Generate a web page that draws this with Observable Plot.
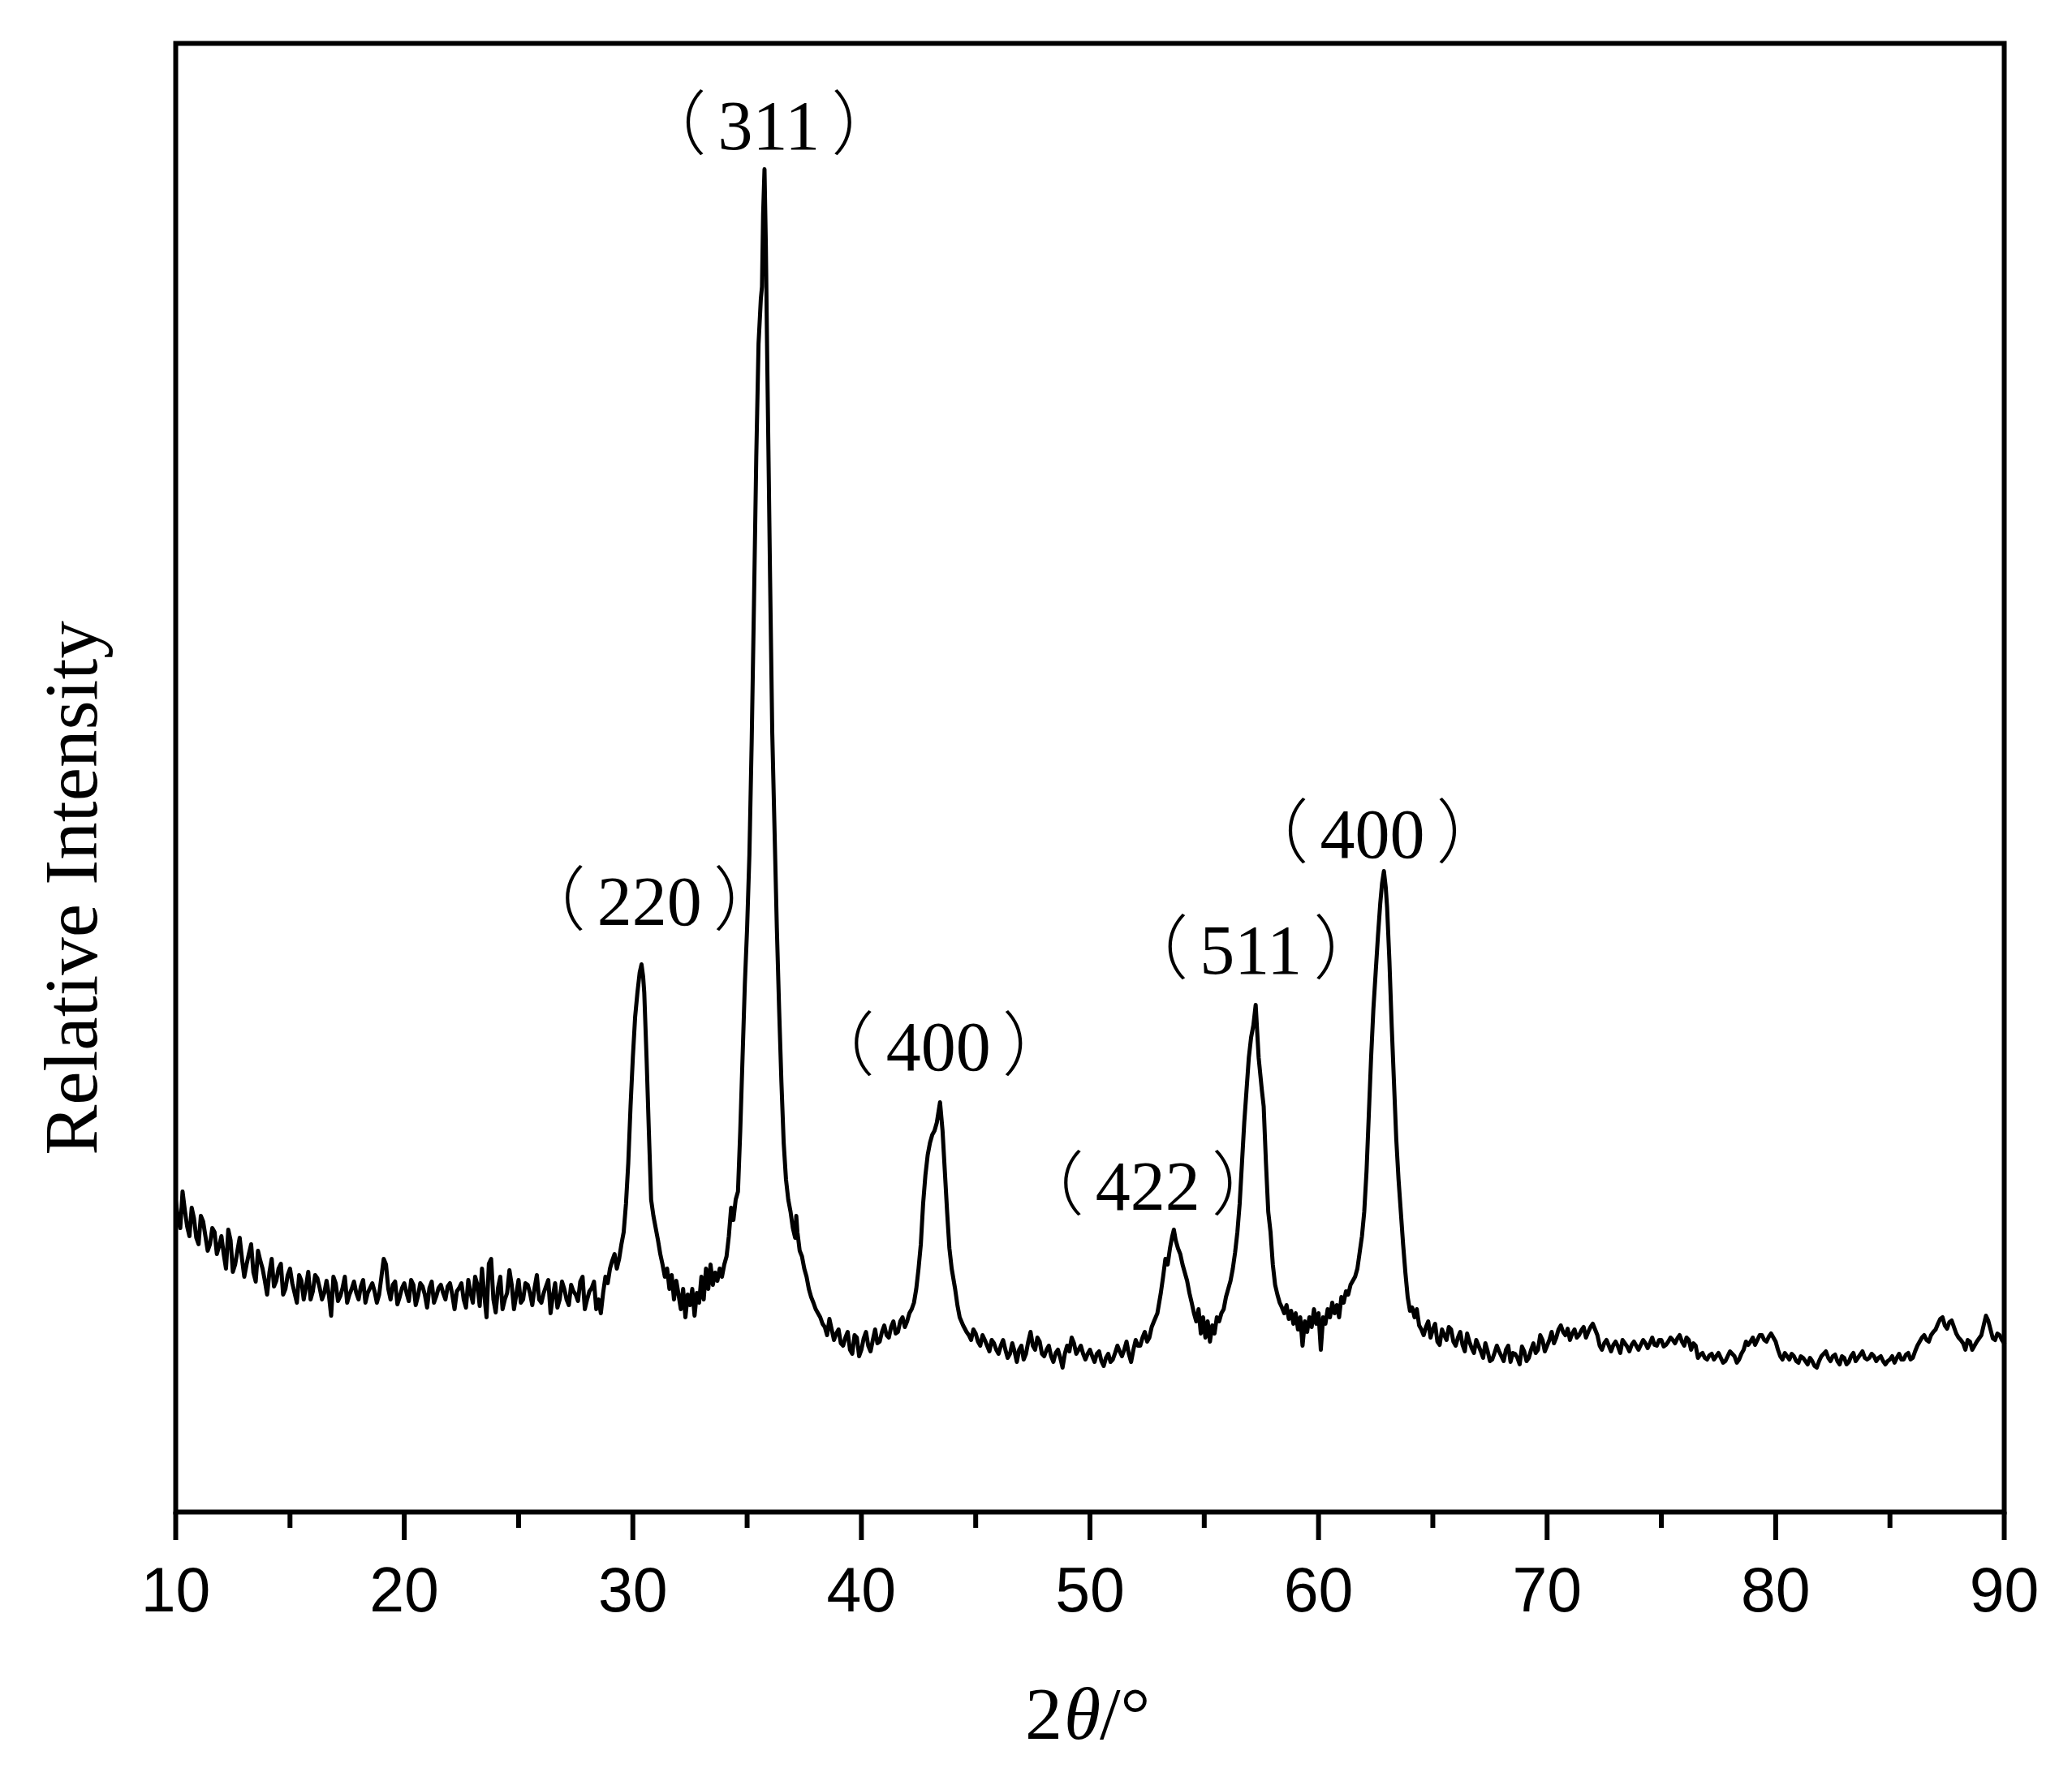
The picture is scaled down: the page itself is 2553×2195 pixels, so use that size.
<!DOCTYPE html>
<html>
<head>
<meta charset="utf-8">
<script src="https://cdn.jsdelivr.net/npm/d3@7"></script>
<script src="https://cdn.jsdelivr.net/npm/@observablehq/plot@0.6"></script>
<style>
  html, body { margin: 0; padding: 0; background: #fff; }
  #chart svg { display: block; }
</style>
</head>
<body>
<div id="chart"></div>
<script>
// XRD pattern: [2θ (°), relative intensity (a.u.)]
const pattern = [
  [10.0,385],[10.1,360],[10.2,350],[10.3,395],[10.4,372],[10.5,352],[10.6,340],[10.7,375],[10.8,362],[10.9,338],
  [11.0,330],[11.1,365],[11.2,358],[11.3,340],[11.4,322],[11.5,330],[11.6,350],[11.7,345],[11.8,318],[11.9,328],
  [12.0,340],[12.1,318],[12.2,300],[12.3,348],[12.4,335],[12.5,296],[12.6,305],[12.7,322],[12.8,338],[12.9,312],
  [13.0,290],[13.1,305],[13.2,318],[13.3,330],[13.4,295],[13.5,284],[13.6,322],[13.7,310],[13.8,300],[13.9,285],
  [14.0,268],[14.1,295],[14.2,312],[14.3,278],[14.4,285],[14.5,300],[14.6,306],[14.7,268],[14.8,275],[14.9,292],
  [15.0,300],[15.1,282],[15.2,270],[15.3,258],[15.4,292],[15.5,285],[15.6,262],[15.7,278],[15.8,296],[15.9,262],
  [16.0,272],[16.1,292],[16.2,288],[16.3,276],[16.4,262],[16.5,270],[16.6,285],[16.7,268],[16.8,242],[16.9,290],
  [17.0,282],[17.1,260],[17.2,266],[17.3,276],[17.4,290],[17.5,258],[17.6,268],[17.7,275],[17.8,284],[17.9,270],
  [18.0,262],[18.1,278],[18.2,286],[18.3,258],[18.4,270],[18.5,276],[18.6,282],[18.7,272],[18.8,258],[18.9,268],
  [19.0,290],[19.1,312],[19.2,305],[19.3,275],[19.4,262],[19.5,280],[19.6,284],[19.7,256],[19.8,265],[19.9,276],
  [20.0,282],[20.1,270],[20.2,260],[20.3,286],[20.4,280],[20.5,255],[20.6,266],[20.7,282],[20.8,278],[20.9,268],
  [21.0,252],[21.1,276],[21.2,284],[21.3,258],[21.4,266],[21.5,276],[21.6,280],[21.7,270],[21.8,262],[21.9,278],
  [22.0,282],[22.1,268],[22.2,250],[22.3,272],[22.4,276],[22.5,282],[22.6,262],[22.7,252],[22.8,286],[22.9,270],
  [23.0,258],[23.1,290],[23.2,280],[23.3,254],[23.4,300],[23.5,268],[23.6,240],[23.7,306],[23.8,312],[23.9,262],
  [24.0,246],[24.1,276],[24.2,290],[24.3,250],[24.4,262],[24.5,270],[24.6,298],[24.7,280],[24.8,250],[24.9,268],
  [25.0,286],[25.1,258],[25.2,262],[25.3,282],[25.4,280],[25.5,270],[25.6,255],[25.7,276],[25.8,292],[25.9,262],
  [26.0,258],[26.1,270],[26.2,278],[26.3,286],[26.4,245],[26.5,266],[26.6,282],[26.7,252],[26.8,262],[26.9,284],
  [27.0,275],[27.1,262],[27.2,255],[27.3,280],[27.4,272],[27.5,268],[27.6,260],[27.7,284],[27.8,290],[27.9,250],
  [28.0,262],[28.1,272],[28.2,276],[28.3,284],[28.4,250],[28.5,262],[28.6,245],[28.7,270],[28.8,290],[28.9,282],
  [29.0,300],[29.1,310],[29.2,318],[29.3,300],[29.4,312],
  [29.5,330],[29.6,345],[29.7,380],[29.8,430],[29.9,500],[30.0,560],[30.1,610],[30.2,640],[30.3,665],[30.38,675],
  [30.45,660],[30.5,640],[30.6,560],[30.7,470],[30.8,385],[30.9,365],[31.0,350],[31.1,335],[31.2,318],[31.3,305],
  [31.4,290],[31.5,300],[31.6,275],[31.7,292],[31.8,262],[31.9,285],[32.0,268],[32.1,250],[32.2,275],[32.3,240],
  [32.4,268],[32.5,255],[32.6,275],[32.7,242],[32.8,270],[32.9,258],[33.0,290],[33.1,262],[33.2,300],[33.3,275],
  [33.4,305],[33.5,280],[33.6,295],[33.7,285],[33.8,300],[33.9,290],[34.0,305],[34.1,315],[34.2,340],[34.3,375],
  [34.4,360],[34.5,385],[34.6,395],[34.7,470],[34.8,560],[34.9,650],[35.0,720],[35.1,810],[35.2,950],[35.3,1120],
  [35.4,1300],[35.5,1440],[35.6,1495],[35.65,1510],[35.7,1600],[35.76,1655],[35.82,1560],[35.88,1420],[35.95,1270],[36.0,1160],
  [36.1,960],[36.2,840],[36.3,720],[36.4,620],[36.5,530],[36.6,455],[36.7,410],[36.8,385],[36.9,370],[37.0,350],
  [37.1,338],[37.15,365],[37.2,345],[37.3,322],[37.4,315],[37.5,300],[37.6,290],[37.7,275],[37.8,265],[37.9,258],
  [38.0,250],[38.1,245],[38.2,240],[38.3,232],[38.4,228],[38.5,218],[38.6,238],[38.7,225],[38.8,212],[38.9,220],
  [39.0,225],[39.1,208],[39.2,205],[39.3,215],[39.4,222],[39.5,200],[39.6,195],[39.7,218],[39.8,215],[39.9,192],
  [40.0,200],[40.1,214],[40.2,222],[40.3,205],[40.4,198],[40.5,212],[40.6,225],[40.7,208],[40.8,210],[40.9,222],
  [41.0,230],[41.1,218],[41.2,215],[41.3,228],[41.4,235],[41.5,220],[41.6,222],[41.7,235],[41.8,240],[41.9,228],
  [42.0,235],[42.1,245],[42.2,250],[42.3,258],[42.4,275],[42.5,300],[42.6,330],[42.7,380],[42.8,415],[42.9,440],
  [43.0,455],[43.1,465],[43.2,470],[43.3,480],[43.44,505],[43.55,470],[43.65,420],[43.75,370],[43.85,325],[43.95,300],
  [44.1,275],[44.2,255],[44.3,240],[44.45,230],[44.6,222],[44.7,218],[44.8,212],[44.9,225],[45.0,220],[45.1,210],
  [45.2,205],[45.3,218],[45.4,212],[45.5,205],[45.6,198],[45.7,212],[45.8,208],[45.9,200],[46.0,195],[46.1,205],
  [46.2,212],[46.3,200],[46.4,190],[46.5,195],[46.6,208],[46.7,198],[46.8,185],[46.9,200],[47.0,205],[47.1,188],
  [47.2,195],[47.3,210],[47.4,222],[47.5,205],[47.6,200],[47.7,215],[47.8,210],[47.9,195],[48.0,192],[48.1,200],
  [48.2,205],[48.3,192],[48.4,185],[48.5,196],[48.6,200],[48.7,190],[48.8,178],[48.9,195],[49.0,205],[49.1,198],
  [49.2,215],[49.3,208],[49.4,195],[49.5,200],[49.6,205],[49.7,195],[49.8,188],[49.9,195],[50.0,200],[50.1,192],
  [50.2,185],[50.3,195],[50.4,198],[50.5,186],[50.6,180],[50.7,190],[50.8,195],[50.9,185],[51.0,188],[51.1,196],
  [51.2,205],[51.3,198],[51.4,192],[51.5,200],[51.6,210],[51.7,195],[51.8,185],[51.9,200],[52.0,212],[52.1,205],
  [52.2,205],[52.3,215],[52.4,222],[52.5,210],[52.6,215],[52.7,228],[52.8,235],[52.95,245],[53.1,270],[53.2,290],[53.3,312],
  [53.4,305],[53.5,325],[53.6,340],[53.67,348],[53.75,335],[53.85,325],[53.95,318],[54.05,305],[54.15,295],[54.25,285],
  [54.35,270],[54.45,258],[54.55,245],[54.65,235],[54.75,250],[54.85,220],[54.95,240],[55.05,215],[55.15,235],[55.25,210],
  [55.35,230],[55.45,220],[55.55,240],[55.65,235],[55.75,245],[55.85,250],[55.95,265],[56.05,275],[56.15,285],[56.25,300],
  [56.35,320],[56.45,345],[56.55,380],[56.65,430],[56.75,480],[56.85,520],[56.95,560],[57.05,585],[57.15,600],[57.25,625],
  [57.32,590],[57.38,560],[57.45,540],[57.52,520],[57.6,500],[57.7,430],[57.8,370],[57.9,345],[58.0,305],[58.1,280],
  [58.2,268],[58.3,258],[58.4,252],[58.5,245],[58.6,255],[58.7,238],[58.8,248],[58.9,232],[59.0,245],[59.1,225],
  [59.2,240],[59.3,205],[59.4,235],[59.5,222],[59.6,240],[59.7,228],[59.8,250],[59.9,232],[60.0,245],[60.1,200],
  [60.2,240],[60.3,232],[60.4,250],[60.5,240],[60.6,258],[60.7,245],[60.8,255],[60.9,240],[61.0,265],[61.1,258],
  [61.2,272],[61.3,268],[61.4,280],[61.5,285],[61.6,290],[61.7,300],[61.8,320],[61.9,340],[62.0,370],[62.1,420],
  [62.2,490],[62.3,560],[62.4,620],[62.5,665],[62.6,710],[62.7,750],[62.78,775],[62.86,790],[62.94,770],[63.0,745],
  [63.1,680],[63.2,600],[63.3,530],[63.4,460],[63.5,410],[63.6,370],[63.7,330],[63.8,295],[63.9,265],[64.0,248],
  [64.1,252],[64.2,240],[64.3,250],[64.4,230],[64.5,225],[64.6,218],[64.7,228],[64.8,235],[64.9,215],
  [65.0,225],[65.1,232],[65.2,210],[65.3,206],[65.4,225],[65.5,218],[65.6,212],[65.7,228],[65.8,225],[65.9,210],
  [66.0,205],[66.1,215],[66.2,222],[66.3,206],[66.4,198],[66.5,220],[66.6,210],[66.7,202],[66.8,196],[66.9,212],
  [67.0,205],[67.1,198],[67.2,190],[67.3,208],[67.4,198],[67.5,186],[67.6,188],[67.7,196],[67.8,205],[67.9,198],
  [68.0,192],[68.1,186],[68.2,200],[68.3,205],[68.4,185],[68.5,196],[68.6,195],[68.7,190],[68.8,182],[68.9,204],
  [69.0,198],[69.1,186],[69.2,190],[69.3,200],[69.4,208],[69.5,196],[69.6,200],[69.7,218],[69.8,212],[69.9,198],
  [70.0,205],[70.1,212],[70.2,222],[70.3,208],[70.4,215],[70.5,225],[70.6,230],[70.7,222],[70.8,218],[70.9,226],
  [71.0,212],[71.1,220],[71.2,225],[71.3,215],[71.4,218],[71.5,224],[71.6,228],[71.7,215],[71.8,222],[71.9,228],
  [72.0,232],[72.1,225],[72.2,218],[72.3,205],[72.4,200],[72.5,208],[72.6,212],[72.7,205],[72.8,198],[72.9,206],
  [73.0,210],[73.1,204],[73.2,196],[73.3,212],[73.4,208],[73.5,204],[73.6,198],[73.7,206],[73.8,210],[73.9,205],
  [74.0,200],[74.1,206],[74.2,212],[74.3,208],[74.4,202],[74.5,208],[74.6,215],[74.7,206],[74.8,205],[74.9,212],
  [75.0,212],[75.1,204],[75.2,206],[75.3,210],[75.4,215],[75.5,212],[75.6,208],[75.7,214],[75.8,218],[75.9,210],
  [76.0,205],[76.1,215],[76.2,212],[76.3,200],[76.4,208],[76.5,205],[76.6,190],[76.7,194],[76.8,196],[76.9,190],
  [77.0,188],[77.1,193],[77.2,195],[77.3,188],[77.4,192],[77.5,196],[77.6,190],[77.7,184],[77.8,186],[77.9,192],
  [78.0,198],[78.1,195],[78.2,192],[78.3,184],[78.4,188],[78.5,195],[78.6,200],[78.7,210],[78.8,206],[78.9,210],
  [79.0,215],[79.1,206],[79.2,212],[79.3,218],[79.4,218],[79.5,212],[79.6,210],[79.7,216],[79.8,220],[79.9,215],
  [80.0,210],[80.1,200],[80.2,192],[80.3,188],[80.4,196],[80.5,192],[80.6,188],[80.7,195],[80.8,192],[80.9,186],
  [81.0,184],[81.1,192],[81.2,190],[81.3,186],[81.4,182],[81.5,190],[81.6,186],[81.7,180],[81.8,178],[81.9,186],
  [82.0,192],[82.1,195],[82.2,198],[82.3,190],[82.4,186],[82.5,192],[82.6,194],[82.7,186],[82.8,182],[82.9,192],
  [83.0,190],[83.1,182],[83.2,185],[83.3,192],[83.4,196],[83.5,186],[83.6,190],[83.7,194],[83.8,198],[83.9,190],
  [84.0,188],[84.1,190],[84.2,195],[84.3,192],[84.4,186],[84.5,190],[84.6,192],[84.7,186],[84.8,182],[84.9,186],
  [85.0,188],[85.1,192],[85.2,184],[85.3,190],[85.4,195],[85.5,188],[85.6,188],[85.7,194],[85.8,196],[85.9,188],
  [86.0,190],[86.1,198],[86.2,205],[86.3,210],[86.4,215],[86.5,218],[86.6,212],[86.7,210],[86.8,218],[86.9,222],
  [87.0,225],[87.1,232],[87.2,238],[87.3,240],[87.4,230],[87.5,226],[87.6,234],[87.7,236],[87.8,228],[87.9,220],
  [88.0,215],[88.1,212],[88.2,208],[88.3,200],[88.4,212],[88.5,210],[88.6,200],[88.7,205],[88.8,210],[88.9,214],
  [89.0,218],[89.1,230],[89.2,242],[89.3,236],[89.4,225],[89.5,214],[89.6,212],[89.7,220],[89.8,218],[89.9,212],
  [90.0,208]
];

// Peak annotations (Miller indices as written in the figure)
const peakHkl = ["（220）", "（311）", "（400）", "（422）", "（511）", "（400）"];
const peakPos = [30.73, 35.95, 43.37, 52.53, 57.04, 62.36];
const peakLabelY = [751, 1707, 572, 400, 691, 834];

// Axis ticks
const majorTicks = [10, 20, 30, 40, 50, 60, 70, 80, 90];
const minorTicks = [15, 25, 35, 45, 55, 65, 75, 85];
const xDomain = [10, 90];
const yDomain = [0, 1810];

const data = d3.sort(pattern.map(([t, i]) => ({t, i})), d => d.t);
const labels = peakHkl.map((s, k) => ({s, x: peakPos[k], y: peakLabelY[k]}));

const serif = '"Liberation Serif", "Times New Roman", "Noto Sans CJK SC", serif';

const chart = Plot.plot({
  width: 2553,
  height: 2195,
  marginLeft: 216,
  marginRight: 84,
  marginTop: 53,
  marginBottom: 332,
  style: {background: "#fff", color: "#000", fontFamily: '"Liberation Sans", Arial, sans-serif', fontSize: "77px"},
  x: {domain: xDomain},
  y: {domain: yDomain, axis: null},
  marks: [
    Plot.line(data, {x: "t", y: "i", stroke: "#000", strokeWidth: 5, strokeLinejoin: "round"}),
    Plot.frame({stroke: "#000", strokeWidth: 6}),
    Plot.axisX({ticks: minorTicks, tickSize: 20, text: null, strokeWidth: 6, label: null}),
    Plot.axisX({ticks: majorTicks, tickSize: 35, tickPadding: 33, strokeWidth: 6, fontSize: 77, label: null, tickFormat: d => String(d)}),
    Plot.text(labels, {x: "x", y: "y", text: "s", fontSize: 86, fontFamily: serif, textAnchor: "middle", lineAnchor: "middle", fill: "#000"}),
    Plot.text(["Relative Intensity"], {frameAnchor: "left", rotate: -90, dx: -127, dy: 136, fontSize: 93, fontFamily: serif, textAnchor: "middle", lineAnchor: "middle", fill: "#000"}),
    Plot.text(["2"], {frameAnchor: "bottom", dx: -80, dy: 250, fontSize: 92, fontFamily: serif, textAnchor: "start", lineAnchor: "middle", fill: "#000"}),
    Plot.text(["θ"], {frameAnchor: "bottom", dx: -32, dy: 250, fontSize: 92, fontFamily: serif, fontStyle: "italic", textAnchor: "start", lineAnchor: "middle", fill: "#000"}),
    Plot.text(["/°"], {frameAnchor: "bottom", dx: 12, dy: 250, fontSize: 92, fontFamily: serif, textAnchor: "start", lineAnchor: "middle", fill: "#000"})
  ]
});

// Give the full-width parentheses of the peak labels their wider, lighter look
d3.select(chart).selectAll("text").each(function () {
  const t = this.textContent;
  if (t.length > 2 && t.startsWith("（") && t.endsWith("）")) {
    const sel = d3.select(this);
    sel.text(null);
    sel.append("tspan").attr("font-family", '"Noto Sans CJK SC"').attr("font-weight", 300).text("（");
    sel.append("tspan").attr("dx", 14).text(t.slice(1, -1));
    sel.append("tspan").attr("dx", 14).attr("font-family", '"Noto Sans CJK SC"').attr("font-weight", 300).text("）");
  }
});

document.getElementById("chart").appendChild(chart);
</script>
</body>
</html>
